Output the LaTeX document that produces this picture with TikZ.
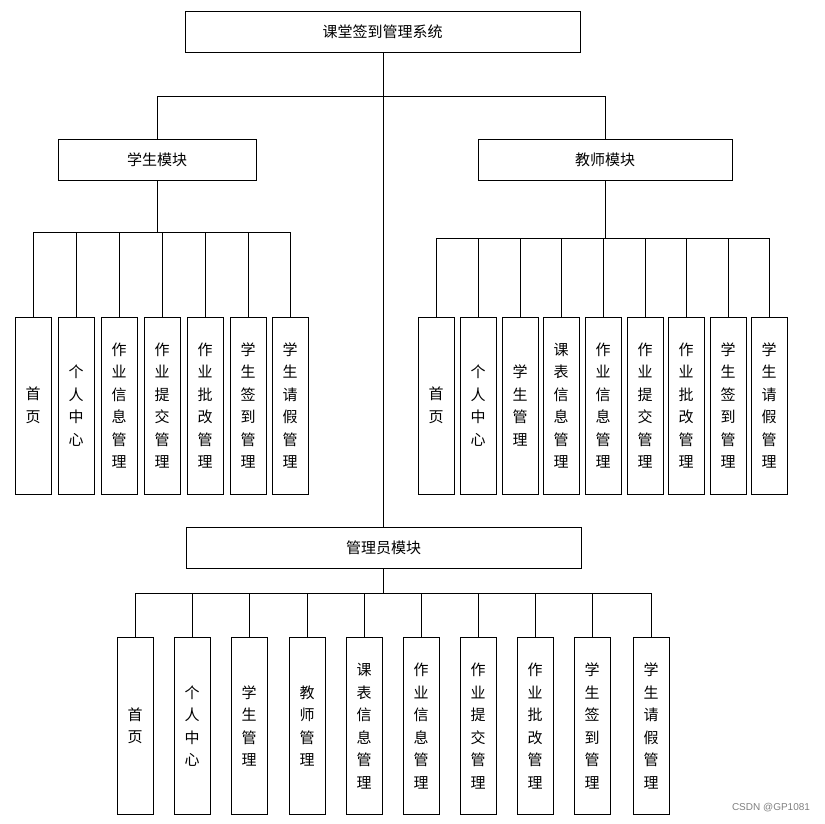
\documentclass[tikz,border=0pt]{standalone}
\usepackage{fontspec}
\newfontfamily\cjk{Noto Sans CJK SC}
\begin{document}
\begin{tikzpicture}[x=1pt,y=-1pt,
  hbox/.style={draw,line width=0.8pt,minimum height=41pt,font=\cjk\fontsize{15}{17}\selectfont,inner sep=0pt},
  vbox/.style={draw,line width=0.8pt,minimum width=36pt,minimum height=177pt,font=\cjk\fontsize{15}{22.5}\selectfont,align=center,text width=16pt,inner sep=0pt},
  ln/.style={line width=0.8pt}]
\useasboundingbox (0,0) rectangle (825,823);
\node[hbox,minimum width=395pt] (root) at (382.5,31.5) {课堂签到管理系统};
\node[hbox,minimum width=198pt] (stu) at (157,160) {学生模块};
\node[hbox,minimum width=254pt] (tea) at (605,160) {教师模块};
\node[hbox,minimum width=395pt] (adm) at (383.5,547.5) {管理员模块};
\coordinate (rb) at (383,96);
\coordinate (rl) at (157,96);
\coordinate (rr) at (605,96);
\draw[ln] (root.south -| rb) -- (rb);
\draw[ln] (rl) -- (rr);
\draw[ln] (rl) -- (stu.north);
\draw[ln] (rr) -- (tea.north);
\draw[ln] (rb) -- (adm.north -| rb);
% student
\coordinate (sb) at (157,232);
\draw[ln] (stu.south) -- (sb);
\foreach \n/\x/\t in {1/33/首\\页,2/76/个\\人\\中\\心,3/119/作\\业\\信\\息\\管\\理,4/162/作\\业\\提\\交\\管\\理,5/205/作\\业\\批\\改\\管\\理,6/248/学\\生\\签\\到\\管\\理,7/290/学\\生\\请\\假\\管\\理}{
  \node[vbox] (s\n) at (\x,405.5) {\t};
  \coordinate (sc\n) at (\x,232);
  \draw[ln] (sc\n) -- (s\n.north);
}
\draw[ln] (sc1) -- (sc7);
% teacher
\coordinate (tb) at (605,238);
\draw[ln] (tea.south) -- (tb);
\foreach \n/\x/\t in {1/436/首\\页,2/478/个\\人\\中\\心,3/520/学\\生\\管\\理,4/561/课\\表\\信\\息\\管\\理,5/603/作\\业\\信\\息\\管\\理,6/645/作\\业\\提\\交\\管\\理,7/686/作\\业\\批\\改\\管\\理,8/728/学\\生\\签\\到\\管\\理,9/769/学\\生\\请\\假\\管\\理}{
  \node[vbox] (t\n) at (\x,405.5) {\t};
  \coordinate (tc\n) at (\x,238);
  \draw[ln] (tc\n) -- (t\n.north);
}
\draw[ln] (tc1) -- (tc9);
% admin
\coordinate (ab) at (383,593);
\draw[ln] (adm.south -| ab) -- (ab);
\foreach \n/\x/\t in {1/135/首\\页,2/192/个\\人\\中\\心,3/249/学\\生\\管\\理,4/307/教\\师\\管\\理,5/364/课\\表\\信\\息\\管\\理,6/421/作\\业\\信\\息\\管\\理,7/478/作\\业\\提\\交\\管\\理,8/535/作\\业\\批\\改\\管\\理,9/592/学\\生\\签\\到\\管\\理,10/651/学\\生\\请\\假\\管\\理}{
  \node[vbox] (a\n) at (\x,726) {\t};
  \coordinate (ac\n) at (\x,593);
  \draw[ln] (ac\n) -- (a\n.north);
}
\draw[ln] (ac1) -- (ac10);
\node[font=\fontspec{Liberation Sans}\fontsize{10}{11}\selectfont,text=gray] (wm) at (771,808) {CSDN @GP1081};
\end{tikzpicture}
\end{document}
